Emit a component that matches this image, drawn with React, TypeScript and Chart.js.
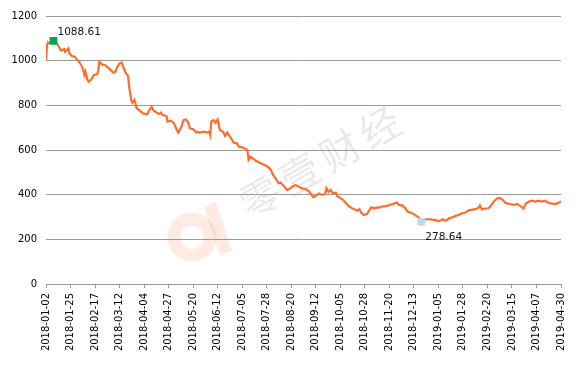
import React, { useEffect, useRef } from 'react';
import { Chart, registerables } from 'chart.js';
Chart.register(...registerables);

const START_UTC = Date.UTC(2018, 0, 2);
const LAST_DAY = 483;
const TICK_STEP = 23;
const yTickValues = [0, 200, 400, 600, 800, 1000, 1200];

const dayIdx = [0,1,2,3,5,7,10,12,14,17,18,21,22,24,27,29,31,33,35,36,37,39,40,42,45,48,49,50,53,55,58,60,63,65,67,69,71,73,75,77,78,80,81,83,85,88,91,95,97,99,101,104,106,108,109,113,114,117,120,122,124,127,129,131,133,135,138,141,142,144,148,151,153,154,155,157,159,161,163,166,168,170,173,176,179,181,184,188,189,190,192,195,198,202,205,208,211,213,216,218,220,223,226,228,231,234,237,240,244,247,249,251,254,256,259,262,263,265,267,269,272,273,275,278,280,282,284,287,289,292,294,296,298,301,304,305,308,311,313,315,319,322,325,327,329,331,334,337,339,342,345,348,350,352,356,359,362,365,368,370,372,375,378,381,384,387,390,393,396,400,403,406,407,409,412,415,417,420,423,426,428,431,435,439,442,445,448,450,453,456,459,462,465,468,471,474,478,481,483];
const values = [1000,1070,1082,1078,1083,1088.61,1078,1063,1045,1051,1039,1055,1033,1021,1018,1006,995,981,958,936,951,913,906,913,936,939,955,995,981,981,970,961,946,951,973,988,991,966,944,931,883,824,812,824,787,776,764,760,779,794,776,767,761,767,757,752,727,731,720,697,678,704,734,737,727,697,693,678,682,678,682,678,682,667,727,734,722,737,690,682,663,678,657,633,630,615,612,603,597,555,570,558,548,540,533,525,510,488,469,451,454,439,421,424,436,443,436,429,424,413,399,388,399,405,399,403,429,413,421,406,409,394,388,379,369,358,349,339,335,328,335,317,309,313,335,343,339,343,342,347,349,354,358,361,365,354,352,339,324,319,313,303,297,278.64,290,290,288,287,281,284,290,283,294,299,305,309,317,319,329,333,335,343,352,334,338,339,349,369,384,385,378,363,358,354,358,349,338,360,369,373,369,373,369,373,364,361,358,364,369];

const maxDay = 7;
const maxValue = 1088.61;
const minDay = 352;
const minValue = 278.64;

const FONT = 'DejaVu Sans';

function dayLabel(v: number): string {
  const d = new Date(START_UTC + Math.round(v) * 86400000);
  const mm = String(d.getUTCMonth() + 1).padStart(2, '0');
  const dd = String(d.getUTCDate()).padStart(2, '0');
  return `${d.getUTCFullYear()}-${mm}-${dd}`;
}

const watermarkPlugin = {
  id: 'watermark',
  beforeDraw(chart: any) {
    const ctx = chart.ctx;
    ctx.save();
    // logo
    ctx.strokeStyle = 'rgba(255,110,60,0.14)';
    ctx.lineWidth = 13;
    ctx.beginPath();
    ctx.arc(192, 237, 18, 0, Math.PI * 2);
    ctx.stroke();
    ctx.lineCap = 'butt';
    ctx.beginPath();
    ctx.moveTo(210, 204);
    ctx.lineTo(226, 253);
    ctx.stroke();
    // text
    ctx.fillStyle = 'rgba(0,0,0,0.085)';
    ctx.font = `40px "Noto Sans CJK SC"`;
    ctx.textAlign = 'center';
    ctx.textBaseline = 'middle';
    const chars = ['零', '壹', '财', '经'];
    const ang = -30 * Math.PI / 180;
    chars.forEach((c, i) => {
      const cx = 260 + i * 40;
      const cy = 197 - i * 23.3;
      ctx.save();
      ctx.translate(cx, cy);
      ctx.rotate(ang);
      ctx.fillText(c, 0, 0);
      ctx.restore();
    });
    ctx.restore();
  },
};

const labelPlugin = {
  id: 'extremaLabels',
  afterDatasetsDraw(chart: any) {
    const ctx = chart.ctx;
    const pMax = chart.getDatasetMeta(0).data[0];
    const pMin = chart.getDatasetMeta(1).data[0];
    ctx.save();
    ctx.fillStyle = '#111';
    ctx.font = `10.5px "${FONT}"`;
    ctx.textAlign = 'left';
    ctx.textBaseline = 'middle';
    if (pMax) ctx.fillText(maxValue.toFixed(2), pMax.x + 4, pMax.y - 9);
    if (pMin) ctx.fillText(minValue.toFixed(2), pMin.x + 4, pMin.y + 15);
    ctx.restore();
  },
};

export default function App() {
  const ref = useRef<HTMLCanvasElement | null>(null);
  useEffect(() => {
    if (!ref.current) return;
    const points = dayIdx.map((d, i) => ({ x: d, y: values[i] }));
    const chart = new Chart(ref.current, {
      type: 'line',
      data: {
        datasets: [
          {
            data: [{ x: maxDay, y: maxValue }],
            showLine: false,
            pointStyle: 'rect',
            pointRadius: 5.5,
            pointBackgroundColor: '#00a651',
            pointBorderWidth: 0,
            order: 0,
          },
          {
            data: [{ x: minDay, y: minValue }],
            showLine: false,
            pointStyle: 'rect',
            pointRadius: 5.5,
            pointBackgroundColor: '#bdd7ee',
            pointBorderWidth: 0,
            order: 0,
          },
          {
            data: points,
            borderColor: '#ff6c2c',
            borderWidth: 2.2,
            pointRadius: 0,
            tension: 0,
            fill: false,
            order: 1,
          },
        ],
      },
      options: {
        responsive: false,
        animation: false,
        events: [],
        layout: { padding: { top: 16, right: 15, left: 0, bottom: 0 } },
        plugins: { legend: { display: false }, tooltip: { enabled: false } },
        scales: {
          x: {
            type: 'linear',
            min: 0,
            max: LAST_DAY,
            afterFit: (s: any) => { s.height = 84; },
            afterBuildTicks: (s: any) => {
              const t = [];
              for (let v = 0; v <= LAST_DAY; v += TICK_STEP) t.push({ value: v });
              s.ticks = t;
            },
            ticks: {
              autoSkip: false,
              maxRotation: 90,
              minRotation: 90,
              padding: 5,
              color: '#000',
              font: { family: FONT, size: 10 },
              callback: (v: any) => dayLabel(Number(v)),
            },
            grid: { drawOnChartArea: false, drawTicks: true, tickLength: 4, color: '#999' },
            border: { display: true, color: '#999', width: 1 },
          },
          y: {
            min: 0,
            max: 1200,
            afterFit: (s: any) => { s.width = 46; },
            afterBuildTicks: (s: any) => { s.ticks = yTickValues.map(v => ({ value: v })); },
            ticks: {
              padding: 9,
              color: '#000',
              font: { family: FONT, size: 10 },
              callback: (v: any) => String(v),
            },
            grid: { color: '#999', drawTicks: false, tickLength: 0 },
            border: { display: false },
          },
        },
      },
      plugins: [watermarkPlugin, labelPlugin],
    });
    return () => chart.destroy();
  }, []);
  return (
    <div style={{ position: 'absolute', left: 0, top: 0, width: 578, height: 368, background: '#fff' }}>
      <canvas ref={ref} width={578} height={368} />
    </div>
  );
}
